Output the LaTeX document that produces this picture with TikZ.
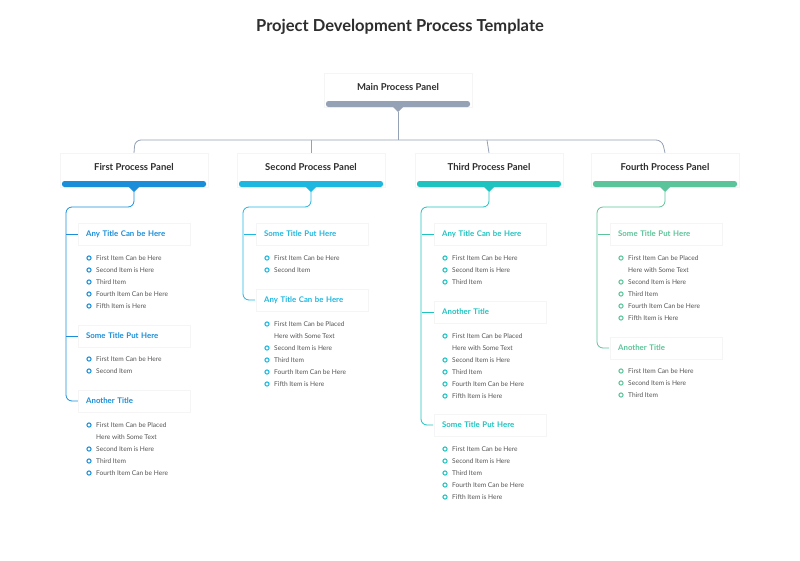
\documentclass[tikz,border=0pt]{standalone}
\usepackage{fontspec}
\setmainfont{Lato}
\usetikzlibrary{shadows}
\definecolor{cA}{HTML}{1A8ED8}
\definecolor{cB}{HTML}{1DB7E0}
\definecolor{cC}{HTML}{1EC3C0}
\definecolor{cD}{HTML}{5CC49A}
\definecolor{cG}{HTML}{95A1B5}
\definecolor{txt}{HTML}{2E2E2E}
\definecolor{itm}{HTML}{555555}
\tikzset{
 panel/.style={draw=black!4,fill=white,minimum width=148pt,minimum height=34pt,drop shadow={opacity=0.08,shadow xshift=0pt,shadow yshift=-1pt},font=\fontsize{9.5}{11}\selectfont\bfseries,text=txt,inner sep=0pt},
 sub/.style={draw=black!4,fill=white,minimum width=112pt,minimum height=22pt,anchor=west,drop shadow={opacity=0.08,shadow xshift=0pt,shadow yshift=-1pt},font=\fontsize{7.8}{9}\selectfont\bfseries,text=#1,inner sep=0pt,text width=100pt,align=left},
 item/.style={anchor=west,font=\fontsize{6.6}{8}\selectfont,text=itm,inner sep=0pt},
 bul/.style={draw=#1,line width=1pt,circle,minimum size=4.2pt,inner sep=0pt},
 conn/.style={draw=#1,line width=0.8pt,rounded corners=6pt},
}
\begin{document}
\begin{tikzpicture}[x=1pt,y=-1pt]
\useasboundingbox[fill=white] (0,0) rectangle (800,560);
\node[font=\fontsize{16.5}{20}\selectfont\bfseries,text=txt] (title) at (400,27) {Project Development Process Template};
% main
\node[panel,text depth=6pt] (main) at (398,90) {Main Process Panel};
\fill[cG,rounded corners=2.5pt] (326,101) rectangle (470,107);
\fill[cG] (392,106)--(404,106)--(398,112)--cycle;
\coordinate (m0) at (398,112);
\foreach \nm/\cx/\col/\lab in {pA/134/cA/First Process Panel,pB/311/cB/Second Process Panel,pC/489/cC/Third Process Panel,pD/665/cD/Fourth Process Panel}{
 \node[panel,text depth=6pt] (\nm) at (\cx,170) {\lab};
 \fill[\col,rounded corners=2.5pt] (\cx-72,181) rectangle (\cx+72,187);
 \fill[\col] (\cx-6,186)--(\cx+6,186)--(\cx,192)--cycle;
}
\draw[conn=cG] (m0)--(398,140);
\draw[conn=cG] (pA.north)--(135,140)--(662,140)--(pD.north);
\draw[conn=cG] (311,140)--(pB.north);
\draw[conn=cG] (487,140)--(pC.north);
\foreach \L/\col/\cx/\lx/\lasty in {A/cA/134/66/401,B/cB/311/243/300,C/cC/489/421/425,D/cD/665/597/348}{
 \coordinate (t\L) at (\cx,192);
 \coordinate (e\L) at (\lx+12,\lasty);
 \draw[conn=\col] (t\L)--(\cx,207)--(\lx,207)--(\lx,\lasty)--(e\L);
}
\foreach \n/\L/\col/\x/\y/\t in {
 a1/A/cA/78/234/Any Title Can be Here, a2/A/cA/78/336/Some Title Put Here, a3/A/cA/78/401/Another Title,
 b1/B/cB/256/234/Some Title Put Here, b2/B/cB/256/300/Any Title Can be Here,
 c1/C/cC/434/234/Any Title Can be Here, c2/C/cC/434/312/Another Title, c3/C/cC/434/425/Some Title Put Here,
 d1/D/cD/610/234/Some Title Put Here, d2/D/cD/610/348/Another Title}{
 \node[sub=\col] (\n) at (\x,\y) {\hspace*{2pt}\t};
}
\foreach \n/\col in {a1/cA,a2/cA,c1/cC,c2/cC,d1/cD,b1/cB}{
 \draw[conn=\col] (\n.west) -- ++(-12,0);
}
\foreach \n/\col/\x/\y/\b/\t in {
 a1i1/cA/89/258/1/First Item Can be Here, a1i2/cA/89/270/1/Second Item is Here, a1i3/cA/89/282/1/Third Item, a1i4/cA/89/294/1/Fourth Item Can be Here, a1i5/cA/89/306/1/Fifth Item is Here,
 a2i1/cA/89/359/1/First Item Can be Here, a2i2/cA/89/371/1/Second Item,
 a3i1/cA/89/425/1/First Item Can be Placed, a3i2/cA/89/437/0/Here with Some Text, a3i3/cA/89/449/1/Second Item is Here, a3i4/cA/89/461/1/Third Item, a3i5/cA/89/473/1/Fourth Item Can be Here,
 b1i1/cB/267/258/1/First Item Can be Here, b1i2/cB/267/270/1/Second Item,
 b2i1/cB/267/324/1/First Item Can be Placed, b2i2/cB/267/336/0/Here with Some Text, b2i3/cB/267/348/1/Second Item is Here, b2i4/cB/267/360/1/Third Item, b2i5/cB/267/372/1/Fourth Item Can be Here, b2i6/cB/267/384/1/Fifth Item is Here,
 c1i1/cC/445/258/1/First Item Can be Here, c1i2/cC/445/270/1/Second Item is Here, c1i3/cC/445/282/1/Third Item,
 c2i1/cC/445/336/1/First Item Can be Placed, c2i2/cC/445/348/0/Here with Some Text, c2i3/cC/445/360/1/Second Item is Here, c2i4/cC/445/372/1/Third Item, c2i5/cC/445/384/1/Fourth Item Can be Here, c2i6/cC/445/396/1/Fifth Item is Here,
 c3i1/cC/445/449/1/First Item Can be Here, c3i2/cC/445/461/1/Second Item is Here, c3i3/cC/445/473/1/Third Item, c3i4/cC/445/485/1/Fourth Item Can be Here, c3i5/cC/445/497/1/Fifth Item is Here,
 d1i1/cD/621/258/1/First Item Can be Placed, d1i2/cD/621/270/0/Here with Some Text, d1i3/cD/621/282/1/Second Item is Here, d1i4/cD/621/294/1/Third Item, d1i5/cD/621/306/1/Fourth Item Can be Here, d1i6/cD/621/318/1/Fifth Item is Here,
 d2i1/cD/621/371/1/First Item Can be Here, d2i2/cD/621/383/1/Second Item is Here, d2i3/cD/621/395/1/Third Item}{
 \ifnum\b=1 \node[bul=\col] (\n b) at (\x,\y) {};\fi
 \node[item] (\n) at (\x+7,\y) {\t};
}
\end{tikzpicture}
\end{document}
